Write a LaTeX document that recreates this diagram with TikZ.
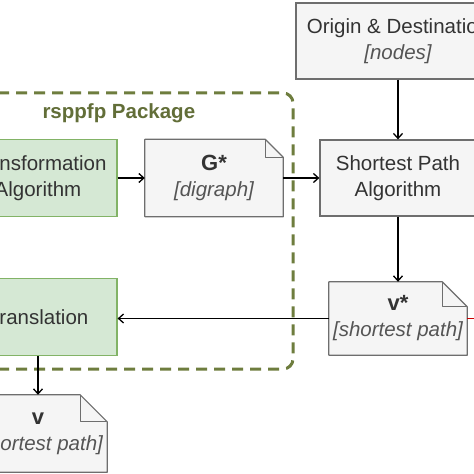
\documentclass[tikz,border=0pt]{standalone}
\usepackage{fontspec}
\setmainfont{Liberation Sans}
\usetikzlibrary{calc,arrows.meta,backgrounds}

\definecolor{boxfill}{RGB}{245,245,245}
\definecolor{boxline}{RGB}{110,110,110}
\definecolor{greenfill}{RGB}{213,232,212}
\definecolor{greenline}{RGB}{130,179,102}
\definecolor{pkgline}{RGB}{110,125,62}
\definecolor{pkgtext}{RGB}{98,110,56}
\definecolor{txt}{RGB}{51,51,51}
\definecolor{subtxt}{RGB}{85,85,85}

\tikzset{
  box/.style={draw=boxline, fill=boxfill, line width=1.2bp, align=center, text=txt, inner sep=0pt},
  algo/.style={box, draw=greenline, fill=greenfill},
  doc/.style={align=center, text=txt, inner sep=0pt},
  flow/.style={line width=1.3bp, -{Straight Barb[length=5bp,width=9bp]}},
}

\newcommand{\sub}[1]{{\itshape\color{subtxt}#1}}
\newcommand{\head}[1]{{\fontsize{22bp}{26bp}\selectfont\bfseries #1}}
% outline with folded corner, behind node #1, fold size #2
\newcommand{\dogear}[2]{%
  \begin{scope}[on background layer]
    \filldraw[draw=boxline, fill=boxfill, line width=1.2bp, line join=round]
      (#1.south west) -- (#1.north west) -- ($(#1.north east)+(-#2,0pt)$)
      -- ($(#1.north east)+(0pt,-#2)$) -- (#1.south east) -- cycle;
    \draw[boxline, line width=1.2bp, line join=round]
      ($(#1.north east)+(-#2,0pt)$) -- ($(#1.north east)+(-#2,-#2)$) -- ($(#1.north east)+(0pt,-#2)$);
  \end{scope}}

\begin{document}
\begin{tikzpicture}[x=1bp, y=-1bp, font=\fontsize{20.5bp}{26bp}\selectfont]

% Canvas
\useasboundingbox (0,0) rectangle (474,474);
\clip (0,0) rectangle (474,474);

% Package frame
\draw[pkgline, line width=3bp, dash pattern=on 11bp off 7bp, rounded corners=10bp]
  (-20,93) -- (293,93) -- (293,369) -- (-20,369);
\node[pkgtext, font=\fontsize{20.5bp}{24bp}\selectfont\bfseries, anchor=west] (pkg) at (39,113) {rsppfp Package};

% Boxes
\node[box, minimum width=204bp, minimum height=76bp] (od) at (398,41) {Origin \& Destination\\\sub{[nodes]}};
\node[box, minimum width=156bp, minimum height=76bp] (sp) at (398,178) {Shortest Path\\Algorithm};
\node[algo, minimum width=158bp, minimum height=77bp] (trf) at (38,178) {Transformation\\Algorithm};
\node[algo, minimum width=158bp, minimum height=77bp] (trl) at (38,317) {Translation};

% Documents
\node[doc, minimum width=138bp, minimum height=77bp] (gs) at (214,178) {\head{G*}\\\sub{[digraph]}};
\node[doc, minimum width=138bp, minimum height=73bp] (vs) at (398,318.5) {\head{v*}\\\sub{[shortest path]}};
\node[doc, minimum width=138bp, minimum height=77bp] (v) at (38,433.5) {\head{v}\\\sub{[shortest path]}};
\dogear{gs}{18bp}
\dogear{vs}{25bp}
\dogear{v}{27bp}

% Connectors
\coordinate (out) at (495,318.5);
\draw[flow] (od.south) -- (sp.north);
\draw[flow] (trf.east) -- (gs.west);
\draw[flow] (gs.east) -- (sp.west);
\draw[flow] (sp.south) -- (vs.north);
\draw[flow] (vs.west) -- (trl.east |- vs.west);
\draw[flow] (trl.south) -- (v.north);
\draw[red!80!black, line width=0.8bp] (vs.east) -- (out);

\end{tikzpicture}
\end{document}
